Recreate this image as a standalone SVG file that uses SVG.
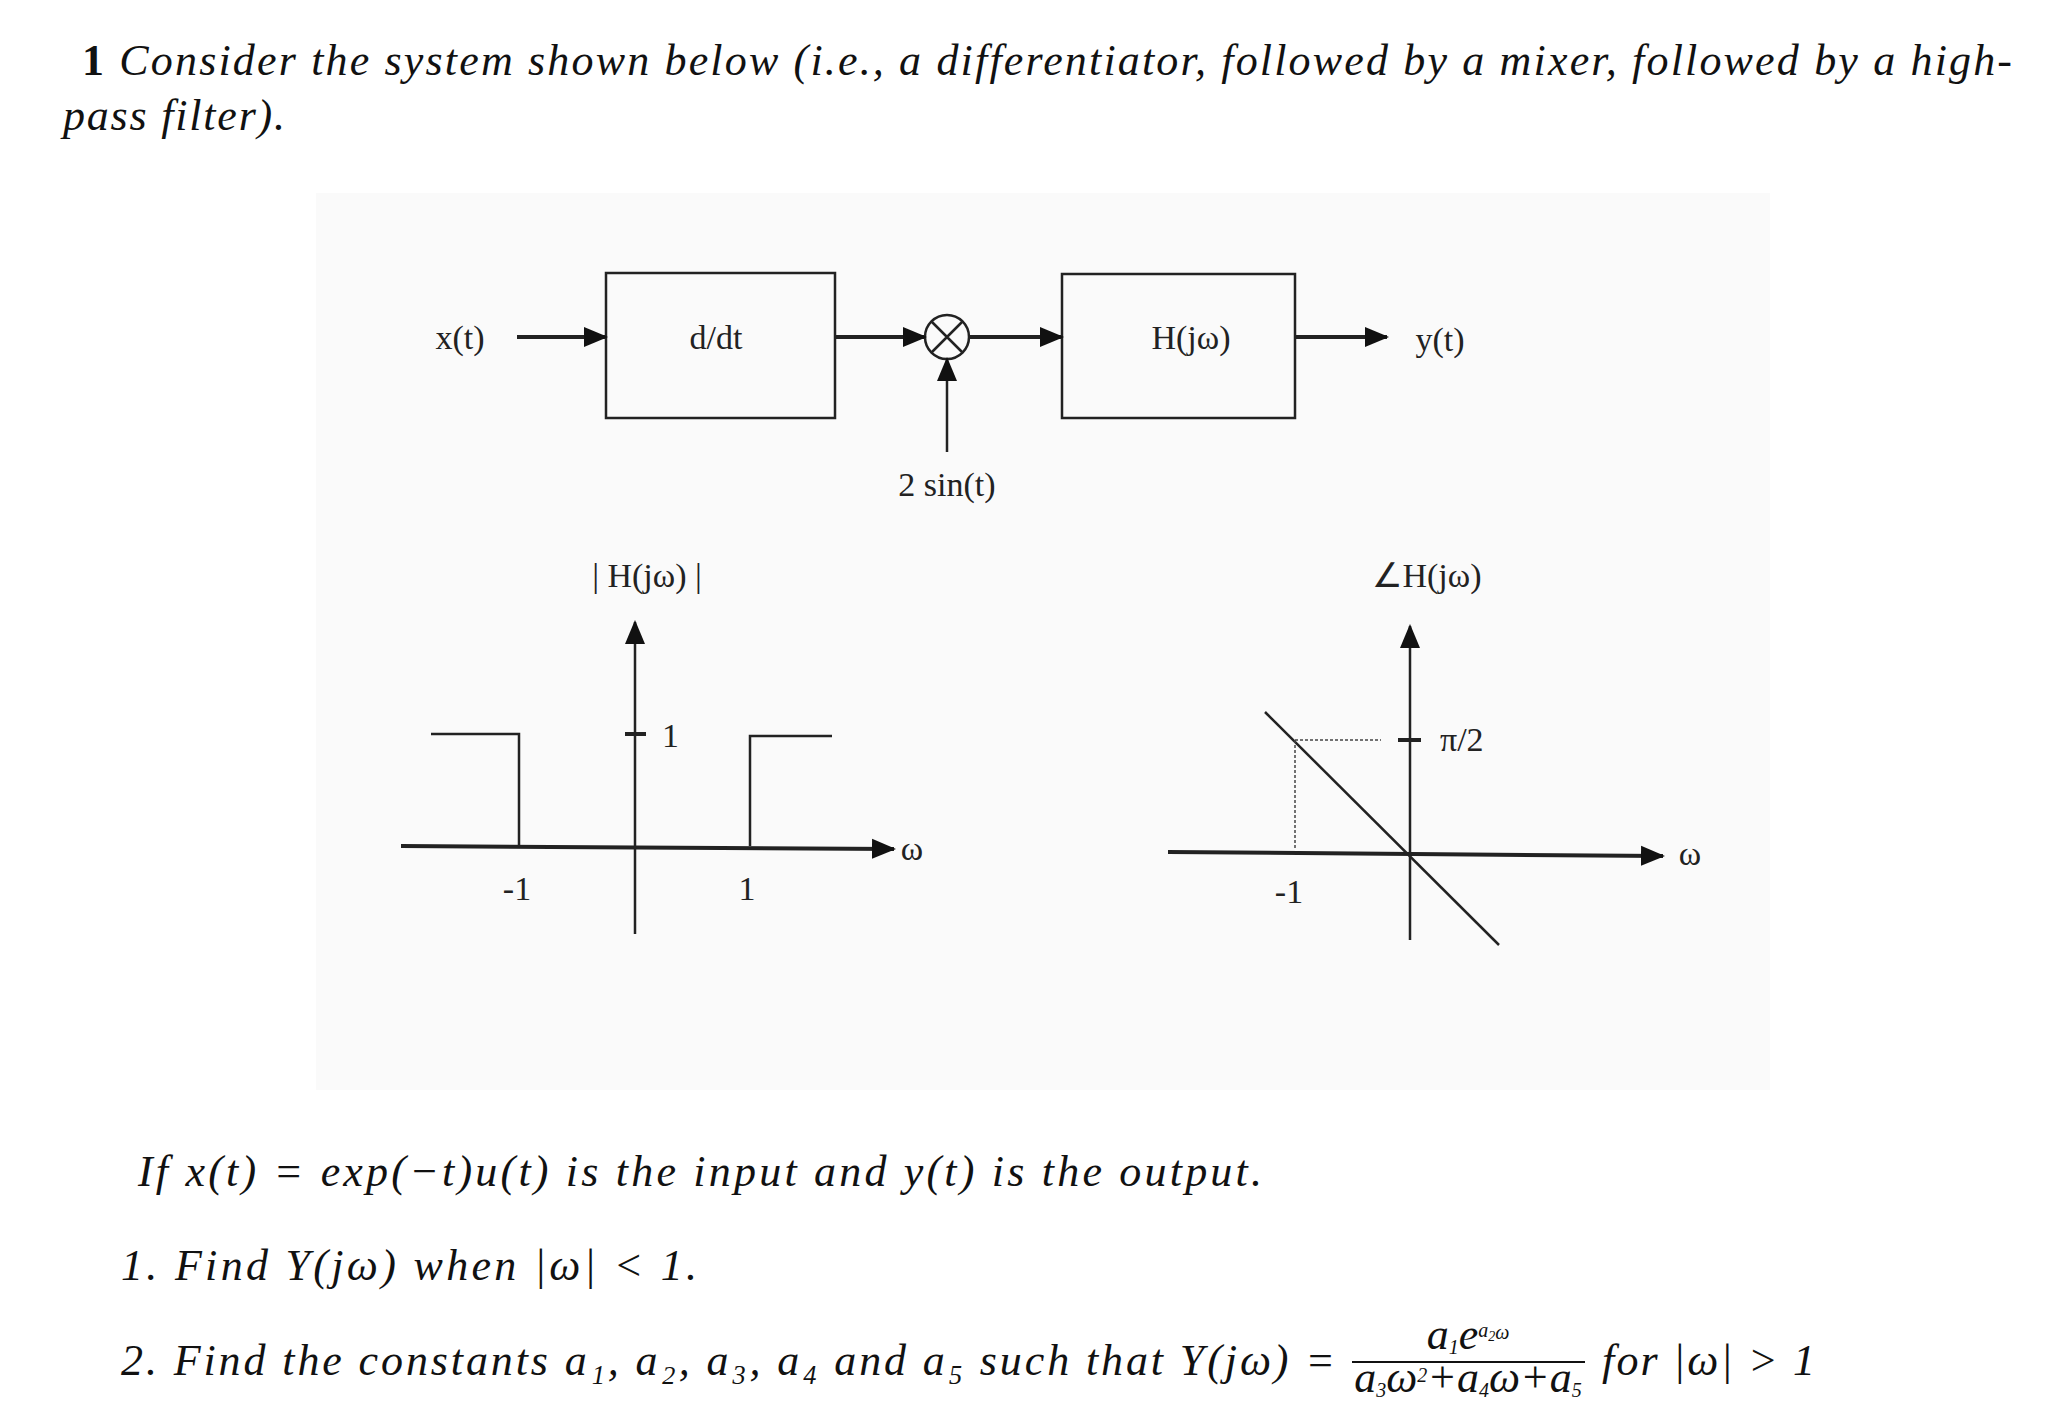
<svg xmlns="http://www.w3.org/2000/svg" width="2046" height="1410" viewBox="0 0 2046 1410">
<style>
.t{font-family:"Liberation Serif",serif;font-style:italic;font-size:44px;fill:#111}
.l{font-family:"Liberation Serif",serif;font-size:34px;fill:#222}
.s{stroke:#222;stroke-width:2.5;fill:none}
.b{stroke:#222;stroke-width:4;fill:none}
</style>
<defs>
<marker id="A" markerWidth="24" markerHeight="24" refX="22" refY="12" orient="auto" markerUnits="userSpaceOnUse" viewBox="0 0 24 24"><path d="M0,2 L24,12 L0,22 z" fill="#111"/></marker>
</defs>
<rect width="2046" height="1410" fill="#fff"/>
<rect x="316" y="193" width="1454" height="897" fill="#fafafa"/>
<text x="82" y="75" class="t" textLength="1930"><tspan font-style="normal" font-weight="bold">1</tspan> Consider the system shown below (i.e., a differentiator, followed by a mixer, followed by a high-</text>
<text x="63" y="130" class="t" textLength="222">pass filter).</text>

<g id="ddt"><rect x="606" y="273" width="229" height="145" class="s"/><text x="716" y="349" class="l" text-anchor="middle">d/dt</text></g>
<g id="mixer"><circle cx="947" cy="337" r="22" class="s"/><path d="M931,321 L963,353 M963,321 L931,353" class="s"/></g>
<g id="H"><rect x="1062" y="274" width="233" height="144" class="s"/><text x="1191" y="349" class="l" text-anchor="middle">H(jω)</text></g>
<g id="labels">
<text x="460" y="349" class="l" text-anchor="middle">x(t)</text>
<text x="1440" y="351" class="l" text-anchor="middle">y(t)</text>
<text x="947" y="496" class="l" text-anchor="middle">2 sin(t)</text>
</g>
<g id="connectors">
<line x1="517" y1="337" x2="606" y2="337" class="b" marker-end="url(#A)"/>
<line x1="835" y1="337" x2="925" y2="337" class="b" marker-end="url(#A)"/>
<line x1="969" y1="337" x2="1062" y2="337" class="b" marker-end="url(#A)"/>
<line x1="1295" y1="337" x2="1387" y2="337" class="b" marker-end="url(#A)"/>
<line x1="947" y1="452" x2="947" y2="359" class="s" marker-end="url(#A)"/>
</g>

<g id="mag">
<text x="647" y="587" class="l" text-anchor="middle">| H(jω) |</text>
<line x1="401" y1="846" x2="894" y2="849" class="b" marker-end="url(#A)"/>
<line x1="635" y1="934" x2="635" y2="622" class="s" marker-end="url(#A)"/>
<polyline points="431,734 519,734 519,846" class="s"/>
<polyline points="750,846 750,736 832,736" class="s"/>
<line x1="625" y1="734" x2="646" y2="734" class="b"/>
<text x="662" y="747" class="l">1</text>
<text x="517" y="900" class="l" text-anchor="middle">-1</text>
<text x="747" y="900" class="l" text-anchor="middle">1</text>
<text x="912" y="860" class="l" text-anchor="middle">ω</text>
</g>
<g id="phase">
<text x="1427" y="587" class="l" text-anchor="middle">∠H(jω)</text>
<line x1="1168" y1="852" x2="1663" y2="856" class="b" marker-end="url(#A)"/>
<line x1="1410" y1="940" x2="1410" y2="626" class="s" marker-end="url(#A)"/>
<line x1="1265" y1="712" x2="1499" y2="945" class="s"/>
<path d="M1295,740 L1381,740 M1295,740 L1295,848" stroke="#444" stroke-width="1.5" stroke-dasharray="3,2" fill="none"/>
<line x1="1398" y1="740" x2="1421" y2="740" class="b"/>
<text x="1440" y="751" class="l">π/2</text>
<text x="1289" y="903" class="l" text-anchor="middle">-1</text>
<text x="1690" y="865" class="l" text-anchor="middle">ω</text>
</g>

<text x="138" y="1186" class="t" textLength="1124">If x(t) = exp(−t)u(t) is the input and y(t) is the output.</text>
<text x="121" y="1280" class="t" textLength="576">1.  Find Y(jω) when |ω| &lt; 1.</text>
<text x="121" y="1375" class="t" textLength="1214">2.  Find the constants a₁, a₂, a₃, a₄ and a₅ such that Y(jω) =</text>
<text x="1468" y="1349" class="t" font-size="28" text-anchor="middle">a<tspan font-size="20" dy="5">1</tspan><tspan dy="-5">e</tspan><tspan font-size="20" dy="-12">a</tspan><tspan font-size="14" dy="4">2</tspan><tspan font-size="20" dy="-2">ω</tspan></text>
<line x1="1352" y1="1362" x2="1585" y2="1362" stroke="#111" stroke-width="2"/>
<text x="1468" y="1392" class="t" font-size="28" text-anchor="middle">a<tspan font-size="20" dy="5">3</tspan><tspan dy="-5">ω</tspan><tspan font-size="20" dy="-10">2</tspan><tspan dy="10">+a</tspan><tspan font-size="20" dy="5">4</tspan><tspan dy="-5">ω+a</tspan><tspan font-size="20" dy="5">5</tspan></text>
<text x="1602" y="1375" class="t" textLength="213">for |ω| &gt; 1</text>
</svg>
